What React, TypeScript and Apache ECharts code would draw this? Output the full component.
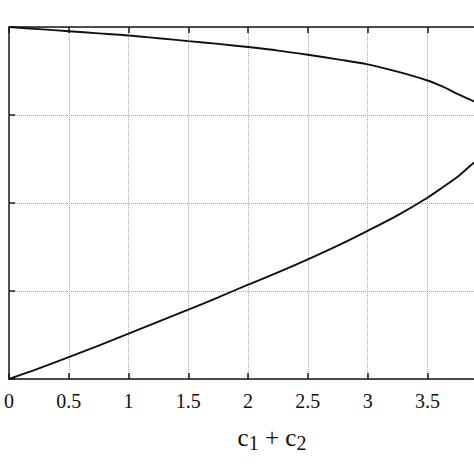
import React, { useEffect, useRef } from 'react';
import * as echarts from 'echarts';

// sum c1 + c2 along the x axis
const xValues = [0, 0.25, 0.5, 0.75, 1, 1.25, 1.5, 1.75, 2, 2.25, 2.5, 2.75, 3, 3.25, 3.5, 3.625, 3.75, 3.88, 3.92];
// upper branch
const upperValues = [1.0, 0.994, 0.988, 0.982, 0.976, 0.968, 0.96, 0.952, 0.943, 0.933, 0.921, 0.908, 0.894, 0.873, 0.848, 0.831, 0.81, 0.79, 0.782];
// lower branch
const lowerValues = [0, 0.03, 0.062, 0.095, 0.129, 0.163, 0.197, 0.232, 0.268, 0.303, 0.34, 0.379, 0.421, 0.465, 0.515, 0.544, 0.574, 0.612, 0.622];
// tick labels visible in the frame (4 and beyond are cropped off)
const xTickLabels = ['0', '0.5', '1', '1.5', '2', '2.5', '3', '3.5'];

const serif = 'Liberation Serif';

const App: React.FC = () => {
  const chartRef = useRef<HTMLDivElement>(null);

  useEffect(() => {
    if (!chartRef.current) return;
    const chart = echarts.init(chartRef.current, undefined, { renderer: 'svg' });

    const axisLine = { show: true, lineStyle: { color: '#1a1a1a', width: 1.5 } };
    const axisTick = { show: true, inside: true, length: 6, lineStyle: { color: '#1a1a1a', width: 1.5 } };
    const splitLine = { show: true, lineStyle: { color: '#a8a8a8', type: 'dotted', width: 1 } };

    const lineSeries = (name: string, values: number[]) => ({
      name,
      type: 'line',
      smooth: 0.3,
      symbol: 'none',
      clip: false,
      lineStyle: { color: '#111', width: 1.9 },
      data: xValues.map((x, i) => [x, values[i]])
    });

    chart.setOption({
      animation: false,
      backgroundColor: '#ffffff',
      grid: { left: 9, right: -61, top: 27, bottom: 95, outerBoundsMode: 'none', containLabel: false },
      xAxis: [
        {
          type: 'value',
          min: 0,
          max: 4.4,
          interval: 0.5,
          axisLine,
          axisTick,
          splitLine,
          axisLabel: {
            margin: 12,
            fontFamily: serif,
            fontSize: 20,
            color: '#111',
            formatter: (v: number) => {
              const idx = Math.round(v / 0.5);
              return xTickLabels[idx] ?? '';
            }
          },
          name: '{c|c}{s|1}{c| + c}{s|2}',
          nameLocation: 'middle',
          nameGap: 42,
          nameTextStyle: {
            rich: {
              c: { fontFamily: serif, fontSize: 25, color: '#111' },
              s: { fontFamily: serif, fontSize: 20, color: '#111', padding: [12, 0, 0, 0] }
            }
          }
        },
        {
          type: 'value',
          position: 'top',
          min: 0,
          max: 4.4,
          interval: 0.5,
          axisLine,
          axisTick,
          splitLine: { show: false },
          axisLabel: { show: false }
        }
      ],
      yAxis: {
        type: 'value',
        min: 0,
        max: 1,
        interval: 0.25,
        axisLine,
        axisTick,
        splitLine,
        axisLabel: { show: false }
      },
      series: [lineSeries('upper', upperValues), lineSeries('lower', lowerValues)]
    });

    return () => {
      chart.dispose();
    };
  }, []);

  return (
    <div
      ref={chartRef}
      style={{ position: 'fixed', left: 0, top: 0, width: '474px', height: '474px', background: '#fff' }}
    />
  );
};

export default App;
